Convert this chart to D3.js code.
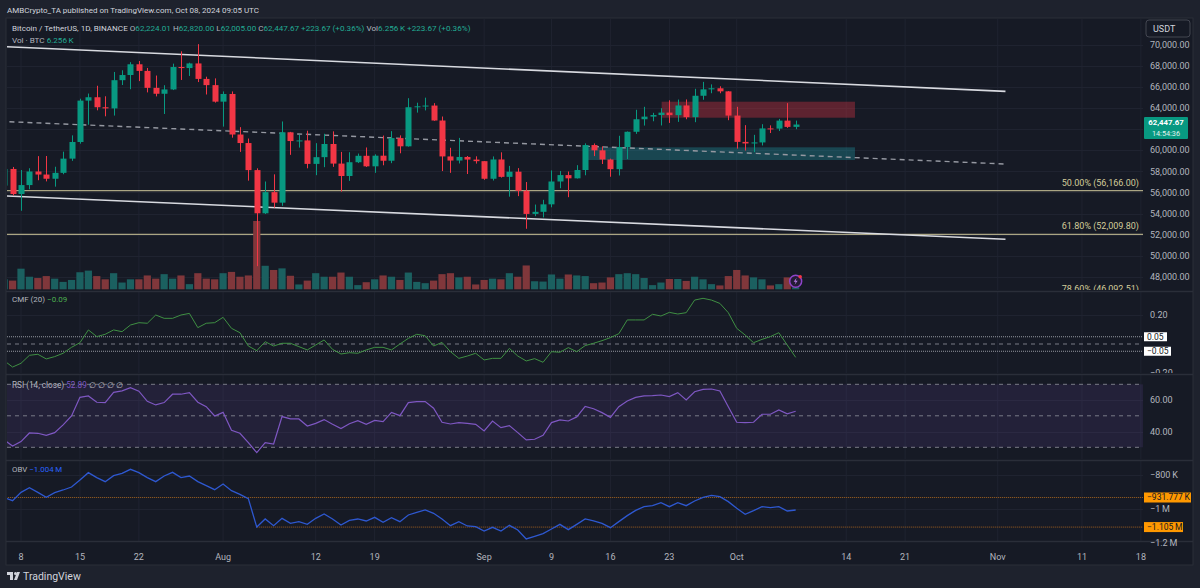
<!DOCTYPE html>
<html><head><meta charset="utf-8">
<script src="https://cdn.jsdelivr.net/npm/d3@7"></script>
<style>
body{margin:0;background:#1e222d;}
svg{display:block;font-family:Roboto,'Liberation Sans',sans-serif;}
</style></head>
<body><svg id="c" width="1200" height="588"></svg>
<script>
// ---------------- DATA ----------------
const firstDay = "2024-07-06", lastDay = "2024-10-08";
const opens = [56650,58230,55850,56700,57990,57700,57300,57860,59210,60790,64720,65040,64090,63980,66660,67150,68170,67540,65930,65370,65780,67910,67810,68250,66780,66190,
64620,65350,61500,60690,58120,54020,56030,55030,61710,60880,60940,58710,59350,60600,58740,57560,58870,59480,58480,59490,59010,61160,60380,64090,64180,64250,62830,59420,59030,59370,59120,
58970,57300,59130,57480,57970,56160,53960,54160,54870,57040,57650,57340,58130,60500,60000,59130,58210,60310,61760,62950,63200,63350,63580,63340,64260,63150,65180,65790,65890,65600,
63300,60800,60650,60750,62080,62060,62820,62224.01];
const highs = [58470,58420,58130,58300,59450,59460,58440,59870,61420,64900,65390,66130,65130,67440,67600,68370,68480,67820,67100,66180,68230,69400,68320,70080,66990,66830,
65590,65590,62200,61120,58290,57040,57720,62740,61750,61470,61860,60680,61570,61800,59850,59820,59690,60270,59620,61400,61820,61420,64950,64520,65000,64480,63210,60240,61180,59460,59430,
58970,59420,59810,58520,58310,56990,54850,55300,58090,58040,57990,58590,60660,60650,60380,59210,61380,61790,63850,64130,63560,64000,64750,64820,64830,65840,66500,66260,66080,65620,
64130,62390,61470,62480,62370,62980,64480,62820];
const lows = [56020,55720,54260,56300,57160,57050,56550,57730,59000,60630,62430,63800,63230,63300,66200,65800,66570,65500,65120,63450,65720,66680,67060,66480,65300,64530,
62250,61200,59850,57120,49000,53960,54560,54730,59570,60260,58290,57640,58400,58430,56080,57100,58790,58420,57860,58580,58780,59720,60350,63580,63790,62800,58030,57860,58750,57750,58740,
57200,57130,57410,55600,55650,52550,53750,53630,54590,56400,55550,57320,57630,59450,58700,57490,57610,59170,61560,62350,62760,62360,62600,62700,62950,62670,64800,65420,65420,62860,
60160,59980,59830,60460,61640,61830,62130,62005];
const closes = [58230,55850,56700,57990,57700,57300,57860,59210,60790,64720,65040,64090,63980,66660,67150,68170,67540,65930,65370,65780,67910,67810,68250,66780,66190,64620,
65350,61500,60690,58120,54020,56030,55030,61710,60880,60940,58710,59350,60600,58740,57560,58870,59480,58480,59490,59010,61160,60380,64090,64180,64250,62830,59420,59030,59370,59120,58970,
57300,59130,57480,57970,56160,53960,54160,54870,57040,57650,57340,58130,60500,60000,59130,58210,60310,61760,62950,63200,63350,63580,63340,64260,63150,65180,65790,65890,65600,63300,
60800,60650,60750,62080,62060,62820,62224,62447.67];
const volumesK = [31,27,64,39,35,41,33,23,29,53,58,41,31,50,21,31,31,43,33,47,33,43,16,50,33,31,
50,54,39,43,212,73,60,65,42,15,27,50,39,39,52,39,13,22,31,43,39,29,52,23,19,27,47,50,37,39,15,
29,33,31,50,39,74,25,24,46,33,46,43,41,19,21,37,47,50,47,35,13,21,32,32,26,39,31,16,12,41,
60,43,37,31,12,16,37,6.256];
const cmf = [-0.115,-0.159,-0.133,-0.078,-0.071,-0.103,-0.087,-0.064,-0.023,0.009,
0.097,0.051,0.067,0.097,0.085,0.131,0.147,0.143,0.200,0.177,
0.177,0.200,0.211,0.113,0.143,0.147,0.184,0.108,0.078,-0.014,
-0.046,0.016,-0.014,0.005,0.005,-0.018,-0.041,-0.007,0.028,-0.037,
-0.069,-0.060,-0.064,-0.041,-0.023,-0.023,-0.041,0.000,0.039,0.067,
0.057,-0.014,0.011,-0.053,-0.099,-0.083,-0.064,-0.110,-0.099,-0.099,
-0.030,-0.083,-0.117,-0.101,-0.126,-0.053,-0.057,-0.025,-0.053,-0.011,
0.005,0.023,0.044,0.071,0.166,0.166,0.166,0.205,0.193,0.218,
0.207,0.216,0.303,0.315,0.303,0.280,0.216,0.108,0.062,0.009,
0.032,0.051,0.078,-0.007,-0.092];
const rsi = [34.7,30.8,33.6,39.1,38.9,37.6,39.3,44.2,49.9,61.7,
62.6,58.6,58.4,64.9,65.8,67.9,65.6,59.2,56.9,58.4,
63.7,63.7,64.7,58.6,55.8,49.9,52.2,40.8,38.9,33.0,
26.6,33.0,32.1,49.5,48.0,48.0,43.5,45.2,47.6,44.6,
41.9,45.0,46.9,44.6,47.1,46.3,52.2,50.1,58.4,59.0,
59.0,54.8,45.9,44.8,45.7,45.2,44.6,40.4,46.7,42.5,
43.8,39.3,34.7,35.1,37.6,45.7,47.4,46.7,49.3,56.0,
54.5,52.0,49.0,55.8,59.4,61.7,62.6,62.8,63.2,62.2,
64.7,60.1,65.3,66.8,67.0,65.8,55.8,45.9,45.7,45.9,
51.0,51.0,53.7,51.2,52.9];
const obvK = [-932.7,-950.3,-901.5,-874.2,-901.5,-930.8,-903.4,-887.8,-870.3,-829.3,
-786.3,-815.6,-839.0,-803.9,-790.2,-766.8,-786.3,-815.6,-839.0,-805.9,
-784.4,-815.6,-805.9,-839.0,-862.5,-885.9,-852.7,-891.7,-913.2,-938.6,
-1105,-1057.6,-1096.7,-1053.7,-1083.0,-1073.2,-1088.9,-1053.7,-1028.3,-1057.6,
-1092.8,-1065.4,-1057.6,-1069.3,-1047.9,-1077.1,-1049.8,-1073.2,-1034.2,-1018.6,
-1004.9,-1024.4,-1057.6,-1096.7,-1073.2,-1098.6,-1102.5,-1127.9,-1106.4,-1127.9,
-1094.7,-1122.0,-1174.7,-1159.1,-1143.5,-1116.2,-1088.9,-1120.1,-1088.9,-1057.6,
-1069.3,-1083.0,-1108.4,-1073.2,-1038.1,-1006.9,-985.4,-979.6,-962.0,-985.4,
-962.0,-979.6,-952.2,-930.8,-919.1,-926.9,-956.1,-995.2,-1030.3,-1008.8,
-985.4,-991.3,-985.4,-1010.8,-1004.9];

const priceTicks = [48000,50000,52000,54000,56000,58000,60000,62000,64000,66000,68000,70000];
const dateTicks = ["2024-07-08","2024-07-15","2024-07-22","2024-08-01","2024-08-12","2024-08-19","2024-09-01","2024-09-09","2024-09-16","2024-09-23","2024-10-01","2024-10-14","2024-10-21","2024-11-01","2024-11-11","2024-11-18"];
const dateTickLabels = ["8","15","22","Aug","12","19","Sep","9","16","23","Oct","14","21","Nov","11","18"];
const cmfTicks = [0.20,-0.20], cmfTickLabels=["0.20","\u22120.20"];
const cmfBands = [0.05,-0.05], cmfBandLabels=["0.05","\u22120.05"];
const rsiTicks = [60,40], rsiTickLabels=["60.00","40.00"];
const rsiBands = [70,50,30];
const obvTicks = [-800,-1000,-1200], obvTickLabels=["\u2212800\u2009K","\u22121\u2009M","\u22121.2\u2009M"];
const obvLevels = [-931.777,-1105], obvLevelLabels=["\u2212931.777\u2009K","\u22121.105\u2009M"], obvLevelStarts=["2024-07-06","2024-08-05"];
// drawings (anchor date, price)
const channelUpper = [["2024-07-06T08:00",69840],["2024-11-01T22:00",65600]];
const channelLower = [["2024-07-06T08:00",55660],["2024-11-01T22:00",51550]];
const channelMid   = [["2024-07-06T15:00",62716],["2024-11-01T22:00",58700]];
const fibLevels = [56166.00,52009.80,46092.51];
const fibLabels = ["50.00% (56,166.00)","61.80% (52,009.80)","78.60% (46,092.51)"];
const redZone  = {from:"2024-09-22T02:00", to:"2024-10-15T01:00", top:64615, bottom:63096};
const tealZone = {from:"2024-09-12T19:00", to:"2024-10-15T01:00", top:60285, bottom:59080};
const lastPrice = 62447.67, countdown = "14:54:36";

// ---------------- LAYOUT ----------------
const svg = d3.select("#c");
const L = 7, R = 1143, FR = 1193;
const P = {main:[19,290], cmf:[291,373], rsi:[374,459], obv:[460,549], axis:[541,565]};
const C = {bg:"#161a25", outer:"#1e222d", grid:"#1f2330", sep:"#2a2e39", text:"#b2b5be",
  up:"#089981", down:"#f23645", volUp:"#1b6060", volDown:"#80373b"};

const days = d3.utcDay.range(new Date(firstDay+"T00:00Z"), d3.utcDay.offset(new Date(lastDay+"T00:00Z"),1));
const D = s => new Date(s.length>10 ? s+":00Z" : s+"T00:00Z");
const x = d3.scaleUtc().domain([D("2024-07-08"), D("2024-11-18")]).range([21, 1140.9]);
const y = d3.scaleLinear().domain([48000,70000]).range([276.7,45]);
const yVol = d3.scaleLinear().domain([0,212]).range([289.3,221]);
const yCmf = d3.scaleLinear().domain([-0.2,0.2]).range([373,315]);
const yRsi = d3.scaleLinear().domain([30,70]).range([447.3,384.3]);
const yObv = d3.scaleLinear().domain([-1200,-800]).range([543.3,475]);

svg.append("rect").attr("width",1200).attr("height",588).attr("fill",C.outer);
svg.append("rect").attr("x",6).attr("y",18).attr("width",FR-6).attr("height",565-18).attr("fill",C.bg)
  .attr("stroke","#2a2e39").attr("stroke-width",1);

const defs = svg.append("defs");
Object.entries(P).forEach(([k,[a,b]])=>{
  const bb = k==="obv" ? 541 : b;
  defs.append("clipPath").attr("id","clip-"+k).append("rect").attr("x",L).attr("y",a).attr("width",R-L).attr("height",bb-a);
  defs.append("clipPath").attr("id","clipax-"+k).append("rect").attr("x",R).attr("y",a).attr("width",FR-R).attr("height",b-a);
});

const gGrid = svg.append("g");
["main","cmf","rsi","obv"].forEach(k=>{
  gGrid.append("g").attr("clip-path","url(#clip-"+k+")").selectAll("line").data(dateTicks).join("line")
    .attr("x1",d=>x(D(d))).attr("x2",d=>x(D(d))).attr("y1",P[k][0]).attr("y2",P[k][1])
    .attr("stroke",C.grid).attr("stroke-width",1);
});
const hgrid = (k,scale,ticks)=>gGrid.append("g").attr("clip-path","url(#clip-"+k+")").selectAll("line").data(ticks).join("line")
  .attr("x1",L).attr("x2",R).attr("y1",d=>Math.round(scale(d))+0.5).attr("y2",d=>Math.round(scale(d))+0.5).attr("stroke",C.grid);
hgrid("main",y,priceTicks); hgrid("cmf",yCmf,[0.2,-0.2]); hgrid("rsi",yRsi,rsiTicks); hgrid("obv",yObv,obvTicks);

svg.append("g").selectAll("line").data([P.cmf[0],P.rsi[0],P.obv[0],P.axis[0]]).join("line")
  .attr("x1",6).attr("x2",FR).attr("y1",d=>d+0.5).attr("y2",d=>d+0.5).attr("stroke",C.sep).attr("stroke-width",1.5);

// ---------------- MAIN PANE ----------------
const gMain = svg.append("g").attr("clip-path","url(#clip-main)");
[ [tealZone,"rgba(34,171,186,0.30)"], [redZone,"rgba(200,50,65,0.40)"] ].forEach(([z,c])=>{
  gMain.append("rect").attr("x",x(D(z.from))).attr("width",x(D(z.to))-x(D(z.from)))
    .attr("y",y(z.top)).attr("height",y(z.bottom)-y(z.top)).attr("fill",c);
});
gMain.selectAll("line.fib").data(fibLevels).join("line").attr("class","fib")
  .attr("x1",L).attr("x2",R).attr("y1",d=>y(d)).attr("y2",d=>y(d)).attr("stroke","#aaa583").attr("stroke-width",1.2);
gMain.selectAll("text.fib").data(fibLevels).join("text").attr("class","fib")
  .attr("x",R-4).attr("y",d=>y(d)-5).attr("text-anchor","end").attr("font-size",9).attr("fill","#d3cc9a")
  .text((d,i)=>fibLabels[i]);
gMain.selectAll("rect.vol").data(days).join("rect").attr("class","vol")
  .attr("x",d=>x(d)-3.6).attr("width",7.2)
  .attr("y",(d,i)=>yVol(volumesK[i])).attr("height",(d,i)=>yVol(0)-yVol(volumesK[i]))
  .attr("fill",(d,i)=>closes[i]>=opens[i]?C.volUp:C.volDown);
const ln = d3.line().x(d=>x(D(d[0]))).y(d=>y(d[1]));
gMain.append("path").attr("d",ln(channelUpper)).attr("stroke","#d8dae0").attr("stroke-width",1.6).attr("fill","none");
gMain.append("path").attr("d",ln(channelLower)).attr("stroke","#d8dae0").attr("stroke-width",1.6).attr("fill","none");
gMain.append("path").attr("d",ln(channelMid)).attr("stroke","#9598a1").attr("stroke-width",1.4).attr("stroke-dasharray","5,4").attr("fill","none");
const gC = gMain.append("g");
gC.selectAll("line").data(days).join("line")
  .attr("x1",d=>Math.round(x(d))+0.5).attr("x2",d=>Math.round(x(d))+0.5)
  .attr("y1",(d,i)=>y(highs[i])).attr("y2",(d,i)=>y(lows[i]))
  .attr("stroke",(d,i)=>closes[i]>=opens[i]?C.up:C.down).attr("stroke-width",1);
gC.selectAll("rect").data(days).join("rect")
  .attr("x",d=>Math.round(x(d))-2.5).attr("width",6)
  .attr("y",(d,i)=>y(Math.max(opens[i],closes[i])))
  .attr("height",(d,i)=>Math.max(1,Math.abs(y(opens[i])-y(closes[i]))))
  .attr("fill",(d,i)=>closes[i]>=opens[i]?C.up:C.down);
const last = days[days.length-1];
const ic = svg.append("g").attr("transform",`translate(${x(last)},${yVol(0)-8})`);
ic.append("circle").attr("r",6).attr("fill","#241b36").attr("stroke","#8e44c9").attr("stroke-width",1.5);
ic.append("path").attr("d","M1,-3.5 L-2,0.5 L0,0.5 L-1,3.5 L2,-0.5 L0,-0.5 Z").attr("fill","#b67be6");
ic.append("circle").attr("cx",4.5).attr("cy",-4.5).attr("r",1.8).attr("fill","#f23645");

// ---------------- CMF ----------------
const gCmf = svg.append("g").attr("clip-path","url(#clip-cmf)");
gCmf.selectAll("line").data(cmfBands).join("line").attr("x1",L).attr("x2",R)
  .attr("y1",d=>yCmf(d)).attr("y2",d=>yCmf(d)).attr("stroke","#9598a1").attr("stroke-width",1).attr("stroke-dasharray","1,1");
gCmf.append("line").attr("x1",L).attr("x2",R).attr("y1",yCmf(0)).attr("y2",yCmf(0))
  .attr("stroke","#787b86").attr("stroke-dasharray","4,4");
gCmf.append("path").datum(cmf).attr("fill","none").attr("stroke","#3f8f43").attr("stroke-width",1)
  .attr("d",d3.line().x((d,i)=>x(days[i])).y(d=>yCmf(d)));

// ---------------- RSI ----------------
const gRsi = svg.append("g").attr("clip-path","url(#clip-rsi)");
gRsi.append("rect").attr("x",L).attr("width",R-L).attr("y",yRsi(70)).attr("height",yRsi(30)-yRsi(70)).attr("fill","rgba(126,87,194,0.13)");
gRsi.selectAll("line").data(rsiBands).join("line").attr("x1",L).attr("x2",R)
  .attr("y1",d=>yRsi(d)).attr("y2",d=>yRsi(d)).attr("stroke","#787b86").attr("stroke-dasharray","4,4");
gRsi.append("path").datum(rsi).attr("fill","none").attr("stroke","#7e57c2").attr("stroke-width",1.2)
  .attr("d",d3.line().x((d,i)=>x(days[i])).y(d=>yRsi(d)));

// ---------------- OBV ----------------
const gObv = svg.append("g").attr("clip-path","url(#clip-obv)");
gObv.selectAll("line").data(obvLevels).join("line").attr("x1",(d,i)=>x(D(obvLevelStarts[i]))).attr("x2",R)
  .attr("y1",d=>yObv(d)).attr("y2",d=>yObv(d)).attr("stroke","#a0601f").attr("stroke-dasharray","1,1");
gObv.append("path").datum(obvK).attr("fill","none").attr("stroke","#2e58d0").attr("stroke-width",1.3)
  .attr("d",d3.line().x((d,i)=>x(days[i])).y(d=>yObv(d)));

// ---------------- AXES ----------------
const axTxt = (k,data,scale,labels)=>svg.append("g").attr("clip-path","url(#clipax-"+k+")").selectAll("text").data(data).join("text")
  .attr("x",1150).attr("y",d=>scale(d)).attr("dy","0.35em").attr("font-size",9).attr("fill",C.text).text((d,i)=>labels[i]);
// price labels hidden where the last-price tag covers them (as in TradingView)
const visiblePriceTicks = priceTicks.filter(t=>Math.abs(y(t)-y(lastPrice))>13);
axTxt("main",visiblePriceTicks,y,visiblePriceTicks.map(d3.format(",.2f")));
axTxt("cmf",cmfTicks,yCmf,cmfTickLabels);
axTxt("rsi",rsiTicks,yRsi,rsiTickLabels);
axTxt("obv",obvTicks,yObv,obvTickLabels);

const pl = svg.append("g");
pl.append("rect").attr("x",1144).attr("y",y(lastPrice)-7.5).attr("width",44).attr("height",22).attr("rx",1).attr("fill","#089981");
pl.append("text").attr("x",1166).attr("y",y(lastPrice)-2.2).attr("dy","0.35em").attr("text-anchor","middle").attr("font-size",7.8).attr("font-weight","bold").attr("fill","#fff").text(d3.format(",.2f")(lastPrice));
pl.append("text").attr("x",1166).attr("y",y(lastPrice)+9.2).attr("dy","0.35em").attr("text-anchor","middle").attr("font-size",7.3).attr("fill","#e0f2ee").text(countdown);
svg.append("rect").attr("x",1146).attr("y",20).attr("width",44).attr("height",17).attr("rx",3).attr("fill","none").attr("stroke","#434651");
svg.append("text").attr("x",1153).attr("y",28.5).attr("dy","0.35em").attr("font-size",9).attr("fill","#d1d4dc").text("USDT");
cmfBands.forEach((v,i)=>{
  svg.append("rect").attr("x",1144).attr("y",yCmf(v)-4.5).attr("width",i?27:23).attr("height",9).attr("fill","#fff");
  svg.append("text").attr("x",1147).attr("y",yCmf(v)).attr("dy","0.35em").attr("font-size",8.5).attr("fill","#131722").text(cmfBandLabels[i]);
});
obvLevels.forEach((v,i)=>{
  svg.append("rect").attr("x",1144).attr("y",yObv(v)-5).attr("width",i?39:47).attr("height",10).attr("fill","#ff9800");
  svg.append("text").attr("x",1147).attr("y",yObv(v)).attr("dy","0.35em").attr("font-size",8.5).attr("fill","#131722").text(obvLevelLabels[i]);
});
svg.append("g").selectAll("text").data(dateTicks).join("text")
  .attr("x",d=>x(D(d))).attr("y",556.5).attr("dy","0.35em").attr("text-anchor","middle").attr("font-size",9).attr("fill",C.text)
  .text((d,i)=>dateTickLabels[i]);

// ---------------- HEADERS ----------------
svg.append("text").attr("x",7).attr("y",10).attr("dy","0.35em").attr("font-size",8).attr("fill","#d1d4dc")
  .text("AMBCrypto_TA published on TradingView.com, Oct 08, 2024 09:05 UTC");
const teal="#22ab94";
const h2 = svg.append("text").attr("x",12).attr("y",28).attr("dy","0.35em").attr("font-size",8.1).attr("fill","#b2b5be");
[["Bitcoin / TetherUS, 1D, BINANCE ","#d1d4dc"],["O","#b2b5be"],["62,224.01 ",teal],["H","#b2b5be"],["62,820.00 ",teal],["L","#b2b5be"],["62,005.00 ",teal],["C","#b2b5be"],["62,447.67 ",teal],["+223.67 (+0.36%) ",teal],["Vol","#b2b5be"],["6.256\u2009K ",teal],["+223.67 (+0.36%)",teal]]
  .forEach(([t,c])=>h2.append("tspan").attr("fill",c).text(t));
const h3 = svg.append("text").attr("x",12).attr("y",40).attr("dy","0.35em").attr("font-size",8.1).attr("fill","#b2b5be");
h3.append("tspan").text("Vol \u00b7 BTC "); h3.append("tspan").attr("fill",teal).text("6.256\u2009K");
const lab = (yy,fs,parts)=>{const t=svg.append("text").attr("x",12).attr("y",yy).attr("dy","0.35em").attr("font-size",fs).attr("fill","#b2b5be");
  parts.forEach(([s,c])=>t.append("tspan").attr("fill",c).text(s));};
lab(299,8,[["CMF (20) ","#b2b5be"],["\u22120.09","#4caf50"]]);
lab(385,8.2,[["RSI (14, close) ","#b2b5be"],["52.89 ","#7e57c2"],["\u2205 \u2205 \u2205 \u2205","#b2b5be"]]);
lab(469,7.9,[["OBV ","#b2b5be"],["\u22121.004\u2009M","#2962ff"]]);

const lg = svg.append("g").attr("transform","translate(7,572)");
lg.append("path").attr("d","M0,0 H6 V8 H3 V3 H0 Z").attr("fill","#d1d4dc");
lg.append("circle").attr("cx",8.5).attr("cy",1.5).attr("r",1.5).attr("fill","#d1d4dc");
lg.append("path").attr("d","M10,0 H13 L10,8 H7 Z").attr("fill","#d1d4dc");
svg.append("text").attr("x",23).attr("y",576).attr("dy","0.35em").attr("font-size",10.5).attr("fill","#d1d4dc").text("TradingView");
</script></body></html>
